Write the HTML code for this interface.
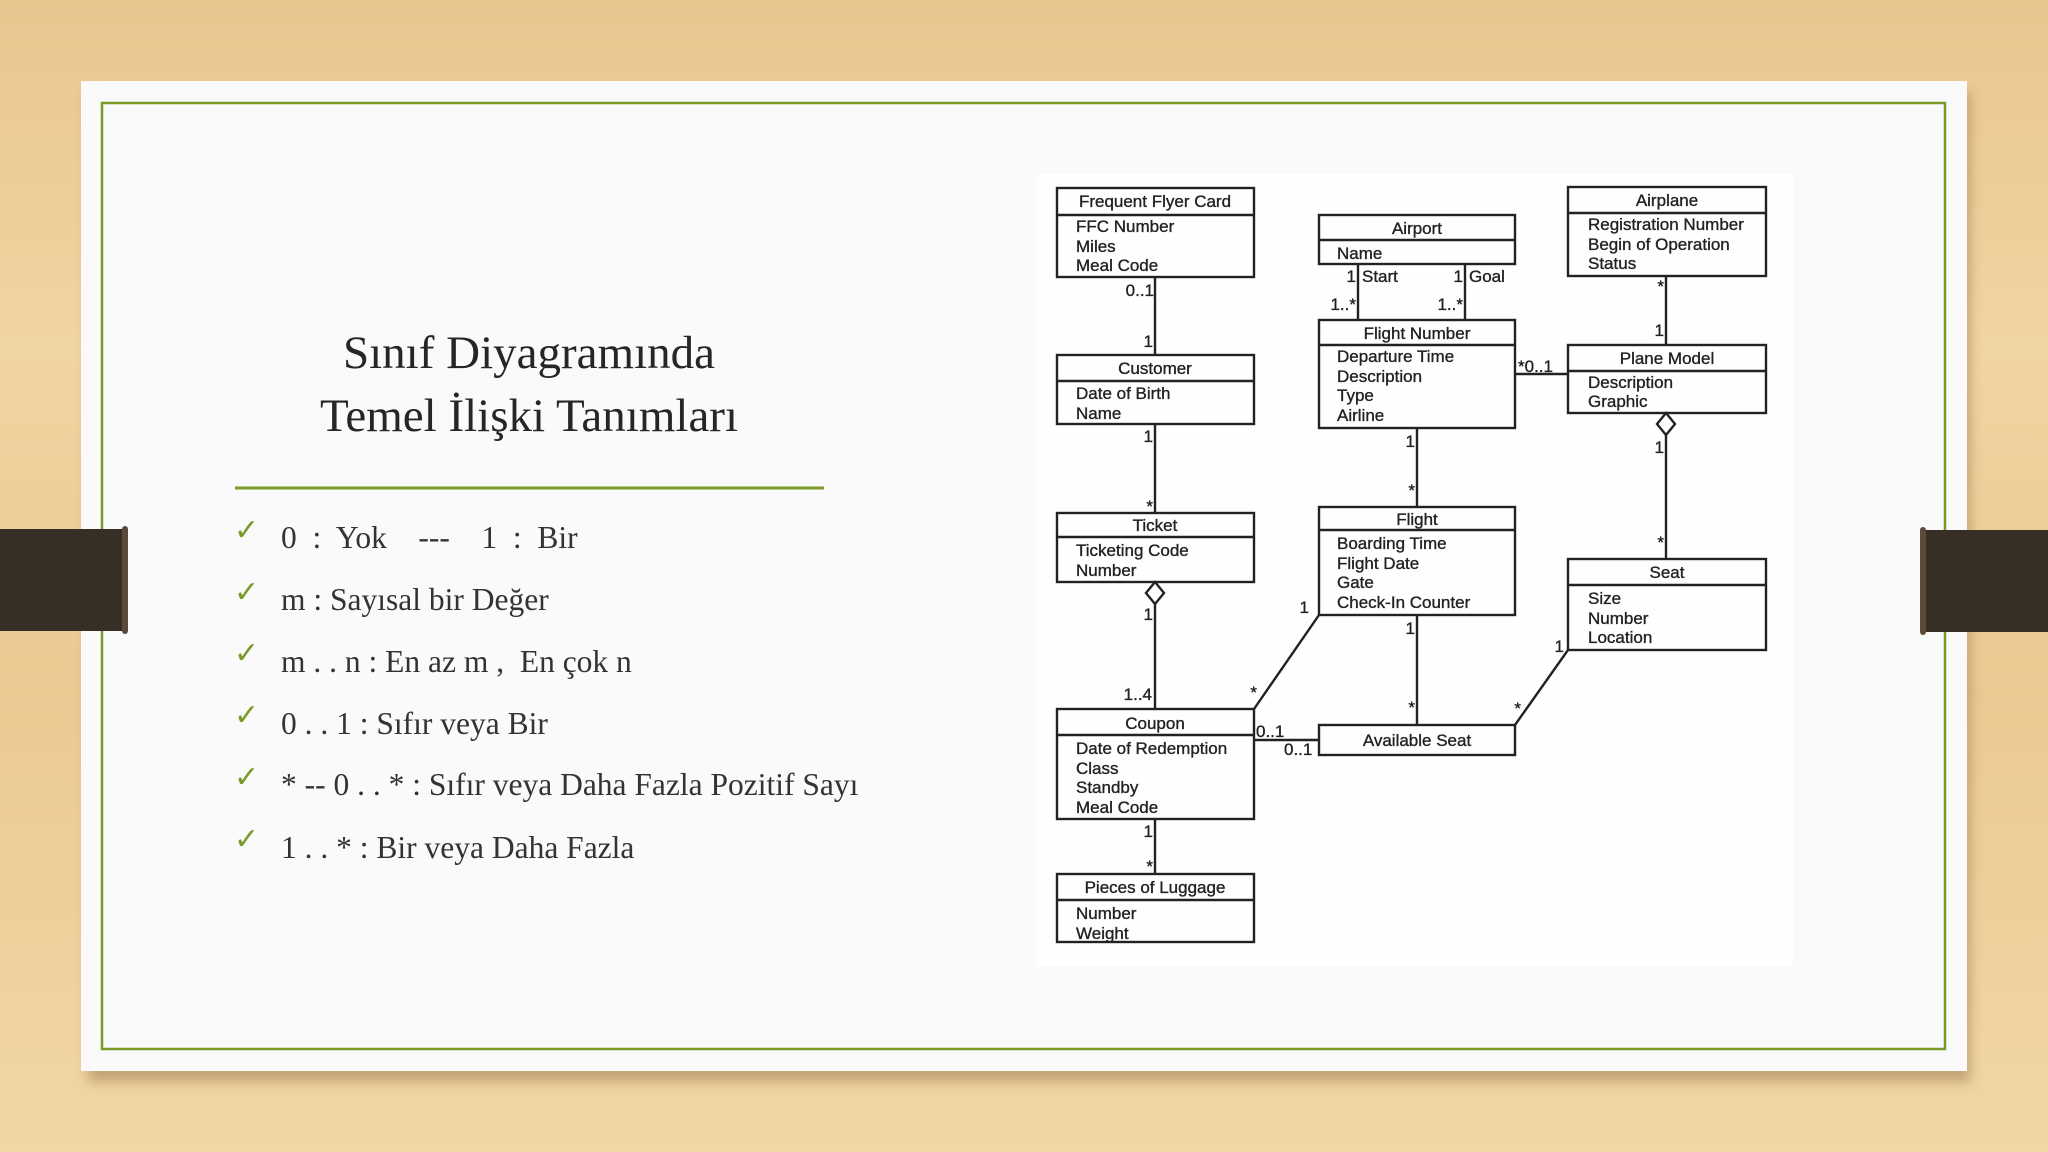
<!DOCTYPE html>
<html><head><meta charset="utf-8"><style>
html,body{margin:0;padding:0;width:2048px;height:1152px;overflow:hidden}
body{background:linear-gradient(180deg,#e9c690 0%,#f0d4a2 30%,#ebc993 60%,#f1d6a6 100%);}
svg{position:absolute;left:0;top:0}
.t{font-family:"Liberation Serif",serif;fill:#262626}
.b{font-family:"Liberation Sans Narrow","Liberation Sans",sans-serif;font-size:17px;fill:#222;stroke:#222;stroke-width:0.35}
</style></head><body>
<svg width="2048" height="1152" viewBox="0 0 2048 1152">
<defs><filter id="sh" x="-5%" y="-5%" width="110%" height="115%"><feGaussianBlur stdDeviation="6"/></filter></defs>
<rect x="88" y="92" width="1882" height="990" fill="#8a6a40" opacity="0.45" filter="url(#sh)"/>
<rect x="81" y="81" width="1886" height="990" fill="#fafafa"/>
<rect x="102" y="103" width="1843" height="946" fill="none" stroke="#7a9a2a" stroke-width="2.5"/>
<rect x="0" y="529" width="127" height="102" fill="#372e26"/>
<rect x="122" y="526" width="6" height="108" rx="3" fill="#5a4a3a"/>
<rect x="1921" y="530" width="127" height="102" fill="#372e26"/>
<rect x="1920" y="527" width="6" height="108" rx="3" fill="#5a4a3a"/>
<text class="t" x="529" y="368" font-size="47" text-anchor="middle">Sınıf Diyagramında</text>
<text class="t" x="529" y="431" font-size="47" text-anchor="middle">Temel İlişki Tanımları</text>
<line x1="235" y1="488" x2="824" y2="488" stroke="#7a9a2a" stroke-width="3"/>
<g font-family="Liberation Serif,serif" font-size="31.5" fill="#333">
<g fill="#7a9a2a" font-size="30" font-weight="bold" font-family="DejaVu Sans,sans-serif"><text x="234" y="540">✓</text><text x="234" y="602">✓</text><text x="234" y="663">✓</text><text x="234" y="725">✓</text><text x="234" y="787">✓</text><text x="234" y="849">✓</text></g>
<text x="281" y="548" xml:space="preserve">0  :  Yok    ---    1  :  Bir</text>
<text x="281" y="610">m : Sayısal bir Değer</text>
<text x="281" y="672" xml:space="preserve">m . . n : En az m ,  En çok n</text>
<text x="281" y="734">0 . . 1 : Sıfır veya Bir</text>
<text x="281" y="795">* -- 0 . . * : Sıfır veya Daha Fazla Pozitif Sayı</text>
<text x="281" y="858">1 . . * : Bir veya Daha Fazla</text>
</g>
<rect x="1036" y="174" width="757" height="792" fill="#fefefe"/>
<g fill="none" stroke="#222" stroke-width="2.4">
<rect x="1057" y="188" width="197" height="89"/><line x1="1057" y1="215" x2="1254" y2="215"/>
<rect x="1057" y="355" width="197" height="69"/><line x1="1057" y1="381" x2="1254" y2="381"/>
<rect x="1057" y="513" width="197" height="69"/><line x1="1057" y1="537" x2="1254" y2="537"/>
<rect x="1057" y="709" width="197" height="110"/><line x1="1057" y1="735" x2="1254" y2="735"/>
<rect x="1057" y="874" width="197" height="68"/><line x1="1057" y1="900" x2="1254" y2="900"/>
<rect x="1319" y="215" width="196" height="49"/><line x1="1319" y1="240" x2="1515" y2="240"/>
<rect x="1319" y="320" width="196" height="108"/><line x1="1319" y1="345" x2="1515" y2="345"/>
<rect x="1319" y="507" width="196" height="108"/><line x1="1319" y1="530" x2="1515" y2="530"/>
<rect x="1319" y="725" width="196" height="30"/>
<rect x="1568" y="187" width="198" height="89"/><line x1="1568" y1="213" x2="1766" y2="213"/>
<rect x="1568" y="345" width="198" height="68"/><line x1="1568" y1="371" x2="1766" y2="371"/>
<rect x="1568" y="559" width="198" height="91"/><line x1="1568" y1="585" x2="1766" y2="585"/>
<line x1="1155" y1="277" x2="1155" y2="355"/>
<line x1="1155" y1="424" x2="1155" y2="513"/>
<polygon points="1155,582 1164,593 1155,604 1146,593" fill="#fff"/>
<line x1="1155" y1="604" x2="1155" y2="709"/>
<line x1="1155" y1="819" x2="1155" y2="874"/>
<line x1="1358" y1="264" x2="1358" y2="320"/>
<line x1="1465" y1="264" x2="1465" y2="320"/>
<line x1="1417" y1="428" x2="1417" y2="507"/>
<line x1="1515" y1="374" x2="1568" y2="374"/>
<line x1="1666" y1="276" x2="1666" y2="345"/>
<polygon points="1666,413 1675,424 1666,435 1657,424" fill="#fff"/>
<line x1="1666" y1="435" x2="1666" y2="559"/>
<line x1="1319" y1="615" x2="1254" y2="709"/>
<line x1="1417" y1="615" x2="1417" y2="725"/>
<line x1="1254" y1="740" x2="1319" y2="740"/>
<line x1="1568" y1="650" x2="1515" y2="725"/>
</g>
<g class="b">
<g text-anchor="middle">
<text x="1155" y="207">Frequent Flyer Card</text>
<text x="1155" y="374">Customer</text>
<text x="1155" y="531">Ticket</text>
<text x="1155" y="729">Coupon</text>
<text x="1155" y="893">Pieces of Luggage</text>
<text x="1417" y="234">Airport</text>
<text x="1417" y="339">Flight Number</text>
<text x="1417" y="525">Flight</text>
<text x="1417" y="746">Available Seat</text>
<text x="1667" y="206">Airplane</text>
<text x="1667" y="364">Plane Model</text>
<text x="1667" y="578">Seat</text>
</g>
<text x="1076" y="232">FFC Number</text><text x="1076" y="252">Miles</text><text x="1076" y="271">Meal Code</text>
<text x="1076" y="399">Date of Birth</text><text x="1076" y="419">Name</text>
<text x="1076" y="556">Ticketing Code</text><text x="1076" y="576">Number</text>
<text x="1076" y="754">Date of Redemption</text><text x="1076" y="774">Class</text><text x="1076" y="793">Standby</text><text x="1076" y="813">Meal Code</text>
<text x="1076" y="919">Number</text><text x="1076" y="939">Weight</text>
<text x="1337" y="259">Name</text>
<text x="1337" y="362">Departure Time</text><text x="1337" y="382">Description</text><text x="1337" y="401">Type</text><text x="1337" y="421">Airline</text>
<text x="1337" y="549">Boarding Time</text><text x="1337" y="569">Flight Date</text><text x="1337" y="588">Gate</text><text x="1337" y="608">Check-In Counter</text>
<text x="1588" y="230">Registration Number</text><text x="1588" y="250">Begin of Operation</text><text x="1588" y="269">Status</text>
<text x="1588" y="388">Description</text><text x="1588" y="407">Graphic</text>
<text x="1588" y="604">Size</text><text x="1588" y="624">Number</text><text x="1588" y="643">Location</text>
<g text-anchor="end">
<text x="1154" y="296">0..1</text><text x="1153" y="347">1</text>
<text x="1153" y="442">1</text><text x="1153" y="512">*</text>
<text x="1153" y="620">1</text><text x="1152" y="700">1..4</text>
<text x="1153" y="837">1</text><text x="1153" y="872">*</text>
<text x="1356" y="282">1</text><text x="1356" y="310">1..*</text>
<text x="1463" y="282">1</text><text x="1463" y="310">1..*</text>
<text x="1415" y="447">1</text><text x="1415" y="496">*</text>
<text x="1664" y="292">*</text><text x="1664" y="336">1</text>
<text x="1664" y="453">1</text><text x="1664" y="548">*</text>
<text x="1309" y="613">1</text><text x="1257" y="698">*</text>
<text x="1415" y="634">1</text><text x="1415" y="713">*</text>
<text x="1564" y="652">1</text><text x="1521" y="714">*</text>
</g>
<text x="1362" y="282">Start</text><text x="1469" y="282">Goal</text>
<text x="1518" y="372">*0..1</text>
<text x="1256" y="737">0..1</text><text x="1284" y="755">0..1</text>
</g>
</svg>
</body></html>
